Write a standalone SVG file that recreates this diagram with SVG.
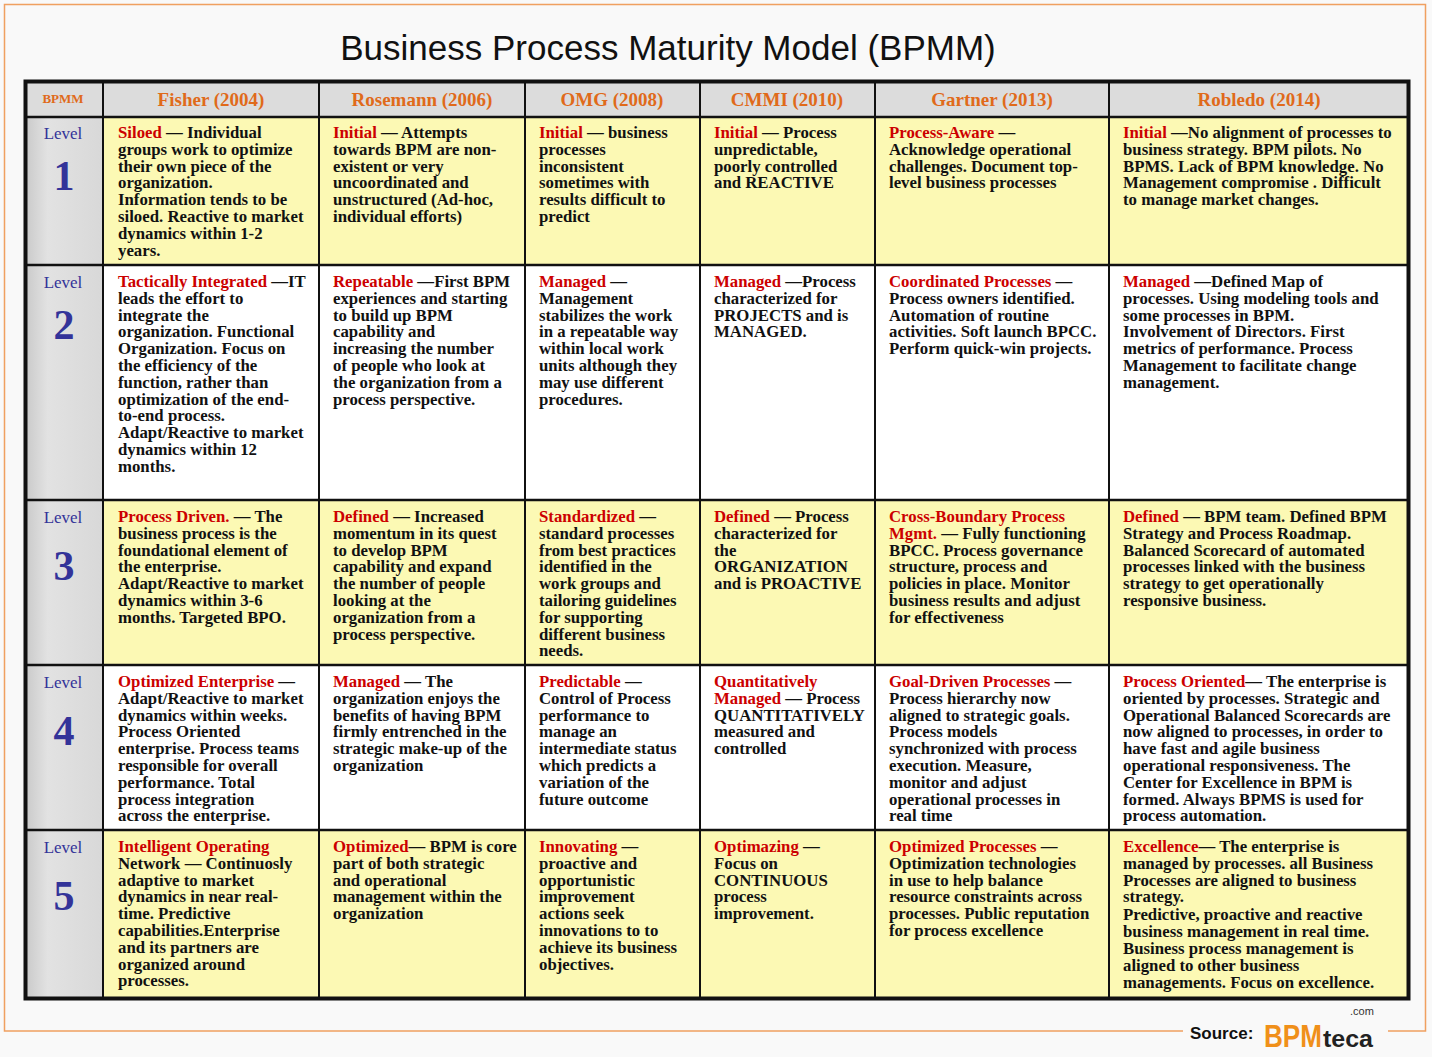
<svg xmlns="http://www.w3.org/2000/svg" width="1432" height="1057" viewBox="0 0 1432 1057">
<defs>
<linearGradient id="lg" x1="0" y1="0" x2="1" y2="0"><stop offset="0" stop-color="#c8c8c8"/><stop offset="0.3" stop-color="#e2e2e2"/><stop offset="1" stop-color="#d8d8d8"/></linearGradient>
<style>
.t{font-family:"Liberation Serif","Times New Roman",serif;font-weight:bold;font-size:16.8px;fill:#111}
.r{fill:#cc0000}
.h{font-family:"Liberation Serif",serif;font-weight:bold;font-size:19px;fill:#e06a1a;text-anchor:middle}
.lv{font-family:"Liberation Serif",serif;font-size:17px;fill:#333399;text-anchor:middle}
.num{font-family:"Liberation Serif",serif;font-weight:bold;font-size:42px;fill:#333399;text-anchor:middle}
.y{fill:#fcf9b4}
.w{fill:#ffffff}
.g{fill:url(#lg)}
.gl{stroke:#111;stroke-width:2}
</style>
</defs>
<rect x="0" y="0" width="1432" height="1057" fill="#f9f9f9"/>
<g id="frame" fill="none" stroke="#f0a060" stroke-width="1.5">
<path d="M1183 1031 H4.5 V4.5 H1425.5 V1031 H1388"/>
</g>
<text x="668" y="60" text-anchor="middle" font-family="Liberation Sans,Arial,sans-serif" font-size="35" fill="#111">Business Process Maturity Model (BPMM)</text>
<g id="table">
<rect x="24" y="80" width="1386" height="37" fill="#dcdcdc"/>
<rect x="24" y="117" width="79" height="883" class="g"/>
<rect x="103" y="117" width="1307" height="148" class="y"/>
<rect x="103" y="265" width="1307" height="235" class="w"/>
<rect x="103" y="500" width="1307" height="165" class="y"/>
<rect x="103" y="665" width="1307" height="165" class="w"/>
<rect x="103" y="830" width="1307" height="170" class="y"/>
<g class="gl">
<path d="M103 80V1000M319 80V1000M525 80V1000M700 80V1000M875 80V1000M1109 80V1000"/>
<path d="M24 117H1410M24 265H1410M24 500H1410M24 665H1410M24 830H1410" stroke-width="2.5"/>
</g>
<rect x="25.5" y="81.5" width="1383" height="917" fill="none" stroke="#111" stroke-width="4"/>
</g>
<g id="header">
<text x="63" y="103" class="h" style="font-size:13px">BPMM</text>
<text x="211" y="106" class="h">Fisher (2004)</text>
<text x="422" y="106" class="h">Rosemann (2006)</text>
<text x="612" y="106" class="h">OMG (2008)</text>
<text x="787" y="106" class="h">CMMI  (2010)</text>
<text x="992" y="106" class="h">Gartner (2013)</text>
<text x="1259" y="106" class="h">Robledo (2014)</text>
</g>
<g id="levels">
<text x="63" y="139" class="lv">Level</text><text x="64" y="190" class="num">1</text>
<text x="63" y="288" class="lv">Level</text><text x="64" y="339" class="num">2</text>
<text x="63" y="523" class="lv">Level</text><text x="64" y="580" class="num">3</text>
<text x="63" y="688" class="lv">Level</text><text x="64" y="745" class="num">4</text>
<text x="63" y="853" class="lv">Level</text><text x="64" y="910" class="num">5</text>
</g>
<g id="row1">
<text class="t" x="118" y="138"><tspan class="r">Siloed</tspan>  — Individual<tspan x="118" dy="16.8">groups work to optimize</tspan><tspan x="118" dy="16.8">their own piece of the</tspan><tspan x="118" dy="16.8">organization.</tspan><tspan x="118" dy="16.8">Information tends to be</tspan><tspan x="118" dy="16.8">siloed. Reactive to market</tspan><tspan x="118" dy="16.8">dynamics within 1-2</tspan><tspan x="118" dy="16.8">years.</tspan></text>
<text class="t" x="333" y="138"><tspan class="r">Initial</tspan> — Attempts<tspan x="333" dy="16.8">towards BPM are non-</tspan><tspan x="333" dy="16.8">existent or very</tspan><tspan x="333" dy="16.8">uncoordinated and</tspan><tspan x="333" dy="16.8">unstructured (Ad-hoc,</tspan><tspan x="333" dy="16.8">individual efforts)</tspan></text>
<text class="t" x="539" y="138"><tspan class="r">Initial</tspan> — business<tspan x="539" dy="16.8">processes</tspan><tspan x="539" dy="16.8">inconsistent</tspan><tspan x="539" dy="16.8">sometimes with</tspan><tspan x="539" dy="16.8">results difficult to</tspan><tspan x="539" dy="16.8">predict</tspan></text>
<text class="t" x="714" y="138"><tspan class="r">Initial</tspan> — Process<tspan x="714" dy="16.8">unpredictable,</tspan><tspan x="714" dy="16.8">poorly controlled</tspan><tspan x="714" dy="16.8">and REACTIVE</tspan></text>
<text class="t" x="889" y="138"><tspan class="r">Process-Aware</tspan>  —<tspan x="889" dy="16.8">Acknowledge operational</tspan><tspan x="889" dy="16.8">challenges. Document top-</tspan><tspan x="889" dy="16.8">level business processes</tspan></text>
<text class="t" x="1123" y="138"><tspan class="r">Initial</tspan> —No alignment of processes to<tspan x="1123" dy="16.8">business strategy. BPM pilots.  No</tspan><tspan x="1123" dy="16.8">BPMS. Lack of BPM knowledge.  No</tspan><tspan x="1123" dy="16.8">Management compromise . Difficult</tspan><tspan x="1123" dy="16.8">to manage  market changes.</tspan></text>
</g>
<g id="row2">
<text class="t" x="118" y="287"><tspan class="r">Tactically Integrated</tspan> —IT<tspan x="118" dy="16.8">leads the effort to</tspan><tspan x="118" dy="16.8">integrate the</tspan><tspan x="118" dy="16.8">organization. Functional</tspan><tspan x="118" dy="16.8">Organization. Focus on</tspan><tspan x="118" dy="16.8">the efficiency of the</tspan><tspan x="118" dy="16.8">function, rather than</tspan><tspan x="118" dy="16.8">optimization of the end-</tspan><tspan x="118" dy="16.8">to-end process.</tspan><tspan x="118" dy="16.8">Adapt/Reactive to market</tspan><tspan x="118" dy="16.8">dynamics within 12</tspan><tspan x="118" dy="16.8">months.</tspan></text>
<text class="t" x="333" y="287"><tspan class="r">Repeatable</tspan> —First BPM<tspan x="333" dy="16.8">experiences and starting</tspan><tspan x="333" dy="16.8">to build up BPM</tspan><tspan x="333" dy="16.8">capability and</tspan><tspan x="333" dy="16.8">increasing the number</tspan><tspan x="333" dy="16.8">of people who look at</tspan><tspan x="333" dy="16.8">the organization from a</tspan><tspan x="333" dy="16.8">process perspective.</tspan></text>
<text class="t" x="539" y="287"><tspan class="r">Managed</tspan> —<tspan x="539" dy="16.8">Management</tspan><tspan x="539" dy="16.8">stabilizes the work</tspan><tspan x="539" dy="16.8">in a repeatable way</tspan><tspan x="539" dy="16.8">within local work</tspan><tspan x="539" dy="16.8">units although they</tspan><tspan x="539" dy="16.8">may use different</tspan><tspan x="539" dy="16.8">procedures.</tspan></text>
<text class="t" x="714" y="287"><tspan class="r">Managed</tspan> —Process<tspan x="714" dy="16.8">characterized for</tspan><tspan x="714" dy="16.8">PROJECTS and is</tspan><tspan x="714" dy="16.8">MANAGED.</tspan></text>
<text class="t" x="889" y="287"><tspan class="r">Coordinated Processes</tspan> —<tspan x="889" dy="16.8">Process owners identified.</tspan><tspan x="889" dy="16.8">Automation of routine</tspan><tspan x="889" dy="16.8">activities. Soft launch BPCC.</tspan><tspan x="889" dy="16.8">Perform quick-win projects.</tspan></text>
<text class="t" x="1123" y="287"><tspan class="r">Managed</tspan> —Defined Map of<tspan x="1123" dy="16.8">processes. Using modeling tools and</tspan><tspan x="1123" dy="16.8">some processes in BPM.</tspan><tspan x="1123" dy="16.8">Involvement of Directors.  First</tspan><tspan x="1123" dy="16.8">metrics of performance. Process</tspan><tspan x="1123" dy="16.8">Management  to facilitate change</tspan><tspan x="1123" dy="16.8">management.</tspan></text>
</g>
<g id="row3">
<text class="t" x="118" y="522"><tspan class="r">Process Driven.</tspan> — The<tspan x="118" dy="16.8">business process is the</tspan><tspan x="118" dy="16.8">foundational element of</tspan><tspan x="118" dy="16.8">the enterprise.</tspan><tspan x="118" dy="16.8">Adapt/Reactive to market</tspan><tspan x="118" dy="16.8">dynamics within 3-6</tspan><tspan x="118" dy="16.8">months. Targeted BPO.</tspan></text>
<text class="t" x="333" y="522"><tspan class="r">Defined</tspan> — Increased<tspan x="333" dy="16.8">momentum in its quest</tspan><tspan x="333" dy="16.8">to develop BPM</tspan><tspan x="333" dy="16.8">capability and expand</tspan><tspan x="333" dy="16.8">the number of people</tspan><tspan x="333" dy="16.8">looking at the</tspan><tspan x="333" dy="16.8">organization from a</tspan><tspan x="333" dy="16.8">process perspective.</tspan></text>
<text class="t" x="539" y="522"><tspan class="r">Standardized</tspan> —<tspan x="539" dy="16.8">standard processes</tspan><tspan x="539" dy="16.8">from best practices</tspan><tspan x="539" dy="16.8">identified in the</tspan><tspan x="539" dy="16.8">work groups and</tspan><tspan x="539" dy="16.8">tailoring guidelines</tspan><tspan x="539" dy="16.8">for supporting</tspan><tspan x="539" dy="16.8">different business</tspan><tspan x="539" dy="16.8">needs.</tspan></text>
<text class="t" x="714" y="522"><tspan class="r">Defined</tspan> — Process<tspan x="714" dy="16.8">characterized for</tspan><tspan x="714" dy="16.8">the</tspan><tspan x="714" dy="16.8">ORGANIZATION</tspan><tspan x="714" dy="16.8">and is PROACTIVE</tspan></text>
<text class="t" x="889" y="522"><tspan class="r">Cross-Boundary Process</tspan><tspan x="889" dy="16.8" class="r">Mgmt.</tspan> — Fully functioning<tspan x="889" dy="16.8">BPCC. Process governance</tspan><tspan x="889" dy="16.8">structure, process and</tspan><tspan x="889" dy="16.8">policies in place. Monitor</tspan><tspan x="889" dy="16.8">business results and adjust</tspan><tspan x="889" dy="16.8">for effectiveness</tspan></text>
<text class="t" x="1123" y="522"><tspan class="r">Defined</tspan> — BPM team. Defined BPM<tspan x="1123" dy="16.8">Strategy and Process Roadmap.</tspan><tspan x="1123" dy="16.8">Balanced Scorecard of automated</tspan><tspan x="1123" dy="16.8">processes linked with the business</tspan><tspan x="1123" dy="16.8">strategy to get operationally</tspan><tspan x="1123" dy="16.8">responsive business.</tspan></text>
</g>
<g id="row4">
<text class="t" x="118" y="687"><tspan class="r">Optimized Enterprise</tspan> —<tspan x="118" dy="16.8">Adapt/Reactive to market</tspan><tspan x="118" dy="16.8">dynamics within weeks.</tspan><tspan x="118" dy="16.8">Process Oriented</tspan><tspan x="118" dy="16.8">enterprise. Process teams</tspan><tspan x="118" dy="16.8">responsible for overall</tspan><tspan x="118" dy="16.8">performance. Total</tspan><tspan x="118" dy="16.8">process integration</tspan><tspan x="118" dy="16.8">across the enterprise.</tspan></text>
<text class="t" x="333" y="687"><tspan class="r">Managed</tspan> —  The<tspan x="333" dy="16.8">organization enjoys the</tspan><tspan x="333" dy="16.8">benefits of having BPM</tspan><tspan x="333" dy="16.8">firmly entrenched in the</tspan><tspan x="333" dy="16.8">strategic make-up of the</tspan><tspan x="333" dy="16.8">organization</tspan></text>
<text class="t" x="539" y="687"><tspan class="r">Predictable</tspan> —<tspan x="539" dy="16.8">Control of Process</tspan><tspan x="539" dy="16.8">performance to</tspan><tspan x="539" dy="16.8">manage an</tspan><tspan x="539" dy="16.8">intermediate status</tspan><tspan x="539" dy="16.8">which predicts a</tspan><tspan x="539" dy="16.8">variation of the</tspan><tspan x="539" dy="16.8">future outcome</tspan></text>
<text class="t" x="714" y="687"><tspan class="r">Quantitatively</tspan><tspan x="714" dy="16.8" class="r">Managed</tspan> —  Process<tspan x="714" dy="16.8">QUANTITATIVELY</tspan><tspan x="714" dy="16.8">measured and</tspan><tspan x="714" dy="16.8">controlled</tspan></text>
<text class="t" x="889" y="687"><tspan class="r">Goal-Driven Processes</tspan> —<tspan x="889" dy="16.8">Process hierarchy now</tspan><tspan x="889" dy="16.8">aligned to strategic goals.</tspan><tspan x="889" dy="16.8">Process models</tspan><tspan x="889" dy="16.8">synchronized with process</tspan><tspan x="889" dy="16.8">execution. Measure,</tspan><tspan x="889" dy="16.8">monitor and adjust</tspan><tspan x="889" dy="16.8">operational processes in</tspan><tspan x="889" dy="16.8">real time</tspan></text>
<text class="t" x="1123" y="687"><tspan class="r">Process Oriented</tspan>—  The enterprise is<tspan x="1123" dy="16.8">oriented by processes. Strategic and</tspan><tspan x="1123" dy="16.8">Operational Balanced Scorecards are</tspan><tspan x="1123" dy="16.8">now aligned to  processes, in order to</tspan><tspan x="1123" dy="16.8">have fast and agile business</tspan><tspan x="1123" dy="16.8">operational responsiveness. The</tspan><tspan x="1123" dy="16.8">Center for Excellence in BPM is</tspan><tspan x="1123" dy="16.8">formed. Always BPMS is used for</tspan><tspan x="1123" dy="16.8">process automation.</tspan></text>
</g>
<g id="row5">
<text class="t" x="118" y="852"><tspan class="r">Intelligent Operating</tspan><tspan x="118" dy="16.8">Network — Continuosly</tspan><tspan x="118" dy="16.8">adaptive to market</tspan><tspan x="118" dy="16.8">dynamics in near real-</tspan><tspan x="118" dy="16.8">time. Predictive</tspan><tspan x="118" dy="16.8">capabilities.Enterprise</tspan><tspan x="118" dy="16.8">and its partners are</tspan><tspan x="118" dy="16.8">organized around</tspan><tspan x="118" dy="16.8">processes.</tspan></text>
<text class="t" x="333" y="852"><tspan class="r">Optimized</tspan>— BPM is core<tspan x="333" dy="16.8">part of both strategic</tspan><tspan x="333" dy="16.8">and operational</tspan><tspan x="333" dy="16.8">management within the</tspan><tspan x="333" dy="16.8">organization</tspan></text>
<text class="t" x="539" y="852"><tspan class="r">Innovating</tspan> —<tspan x="539" dy="16.8">proactive and</tspan><tspan x="539" dy="16.8">opportunistic</tspan><tspan x="539" dy="16.8">improvement</tspan><tspan x="539" dy="16.8">actions seek</tspan><tspan x="539" dy="16.8">innovations to to</tspan><tspan x="539" dy="16.8">achieve its business</tspan><tspan x="539" dy="16.8">objectives.</tspan></text>
<text class="t" x="714" y="852"><tspan class="r">Optimazing</tspan> —<tspan x="714" dy="16.8">Focus on</tspan><tspan x="714" dy="16.8">CONTINUOUS</tspan><tspan x="714" dy="16.8">process</tspan><tspan x="714" dy="16.8">improvement.</tspan></text>
<text class="t" x="889" y="852"><tspan class="r">Optimized Processes</tspan> —<tspan x="889" dy="16.8">Optimization technologies</tspan><tspan x="889" dy="16.8">in use to help balance</tspan><tspan x="889" dy="16.8">resource constraints across</tspan><tspan x="889" dy="16.8">processes. Public reputation</tspan><tspan x="889" dy="16.8">for process excellence</tspan></text>
<text class="t" x="1123" y="852"><tspan class="r">Excellence</tspan>— The enterprise is<tspan x="1123" dy="16.8">managed by processes.  all Business</tspan><tspan x="1123" dy="16.8">Processes are aligned to  business</tspan><tspan x="1123" dy="16.8">strategy.</tspan><tspan x="1123" dy="18">Predictive, proactive and reactive</tspan><tspan x="1123" dy="16.8">business management  in real time.</tspan><tspan x="1123" dy="16.8">Business process management is</tspan><tspan x="1123" dy="16.8">aligned to other business</tspan><tspan x="1123" dy="16.8">managements. Focus on excellence.</tspan></text>
</g>
<g id="source">
<text x="1190" y="1039" font-family="Liberation Sans,Arial,sans-serif" font-weight="bold" font-size="17" fill="#111">Source:</text>
<text x="1264" y="1047" font-family="Liberation Sans Narrow,Liberation Sans,Arial,sans-serif" font-weight="bold" font-size="32" fill="#f0901a" textLength="58" lengthAdjust="spacingAndGlyphs">BPM</text>
<text x="1323" y="1047" font-family="Liberation Sans,Arial,sans-serif" font-weight="bold" font-size="24" fill="#222" textLength="50" lengthAdjust="spacingAndGlyphs">teca</text>
<text x="1350" y="1015" font-family="Liberation Sans,Arial,sans-serif" font-size="11" fill="#333">.com</text>
</g>
</svg>
